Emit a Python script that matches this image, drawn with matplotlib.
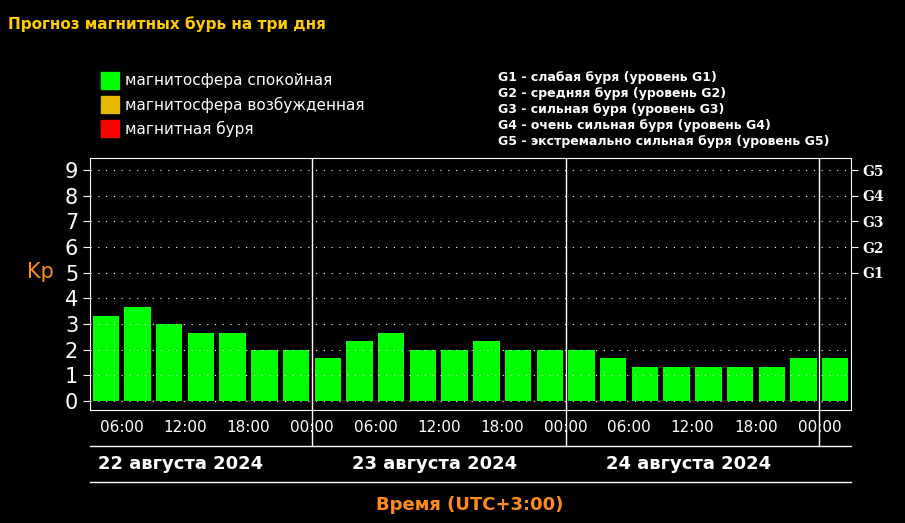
import matplotlib.pyplot as plt
from matplotlib.patches import Rectangle
from matplotlib.lines import Line2D

kp = [3.33, 3.67, 3.0, 2.67, 2.67, 2.0, 2.0, 1.67,
      2.33, 2.67, 2.0, 2.0, 2.33, 2.0, 2.0, 2.0,
      1.67, 1.33, 1.33, 1.33, 1.33, 1.33, 1.67, 1.67]
hour_labels = ["06:00", "12:00", "18:00", "00:00"] * 3
day_labels = ["22 августа 2024", "23 августа 2024", "24 августа 2024"]
g_labels = ["G1", "G2", "G3", "G4", "G5"]
legend_items = [("магнитосфера спокойная", "#00ff00"),
                ("магнитосфера возбужденная", "#e6b800"),
                ("магнитная буря", "#ff0000")]
g_text = ["G1 - слабая буря (уровень G1)",
          "G2 - средняя буря (уровень G2)",
          "G3 - сильная буря (уровень G3)",
          "G4 - очень сильная буря (уровень G4)",
          "G5 - экстремально сильная буря (уровень G5)"]

W, H = 905, 523
fig = plt.figure(figsize=(W / 100, H / 100), dpi=100, facecolor="black")
plt.rcParams["font.family"] = "DejaVu Sans"

def fx(px): return px / W
def fy(py): return 1 - py / H

ax = fig.add_axes([fx(90), fy(410), fx(851) - fx(90), fy(158) - fy(410)])
ax.set_facecolor("black")
ax.set_xlim(0, 72)
ax.set_ylim(-0.35, 9.47)
x = [3 * i + 1.5 for i in range(len(kp))]
ax.bar(x, kp, width=2.5, color="#00ff00")
for v in range(10):
    ax.axhline(v, color="white", ls=(0, (1, 6)), lw=0.8)
for d in [21, 45, 69]:
    ax.axvline(d, color="white", lw=1)
for s in ax.spines.values():
    s.set_color("white")
ax.set_yticks(range(10))
ax.tick_params(axis="y", colors="white", labelsize=15, length=5)
ax.set_xticks([])
ax2 = ax.twinx()
ax2.set_ylim(ax.get_ylim())
ax2.set_yticks([5, 6, 7, 8, 9], g_labels)
ax2.tick_params(axis="y", colors="white", labelsize=10, length=5)
for lab in ax2.get_yticklabels():
    lab.set_family("DejaVu Serif")
    lab.set_weight("bold")
ax2.axis("on")
for s in ax2.spines.values():
    s.set_visible(False)

# hour ticks and day separators below the axis
for i, lab in enumerate(hour_labels):
    t = 3 + 6 * i
    fig.text(fx(90 + t * 10.57), fy(428), lab, color="white", fontsize=11,
             ha="center", va="center")
for d in [21, 45, 69]:
    xp = fx(90 + d * 10.57)
    fig.add_artist(Line2D([xp, xp], [fy(410), fy(446)], color="white", lw=1))
for yy in [446, 482]:
    fig.add_artist(Line2D([fx(90), fx(851)], [fy(yy), fy(yy)], color="white", lw=1))
for i, lab in enumerate(day_labels):
    fig.text(fx(98 + i * 254), fy(464), lab, color="white", fontsize=13,
             fontweight="bold", ha="left", va="center")

fig.text(fx(470), fy(505), "Время (UTC+3:00)", color="#ff8c1a", fontsize=13,
         fontweight="bold", ha="center", va="center")
fig.text(fx(40), fy(272), "Kp", color="#ff8c1a", fontsize=15, ha="center", va="center")
fig.text(fx(8), fy(24), "Прогноз магнитных бурь на три дня", color="#ffcc00",
         fontsize=11, fontweight="bold", ha="left", va="center")

for i, (lab, c) in enumerate(legend_items):
    yp = 81 + i * 24
    fig.add_artist(Rectangle((fx(101), fy(yp + 8)), fx(18), fy(0) - fy(17),
                             color=c, transform=fig.transFigure))
    fig.text(fx(125), fy(yp), lab, color="white", fontsize=11, ha="left", va="center")
for i, lab in enumerate(g_text):
    fig.text(fx(498), fy(77 + i * 16), lab, color="white", fontsize=9,
             fontweight="bold", ha="left", va="center")

fig.savefig("out.png", dpi=100, facecolor="black")
